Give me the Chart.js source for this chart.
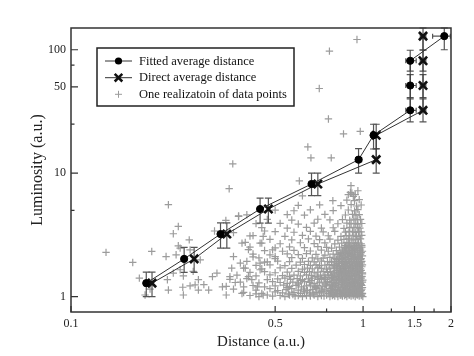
<!DOCTYPE html>
<html><head><meta charset="utf-8">
<script src="https://cdn.jsdelivr.net/npm/chart.js@4/dist/chart.umd.min.js"></script>
<style>html,body{margin:0;padding:0;background:#fff;}#wrap{width:474px;height:356px;}</style>
</head><body><div id="wrap"><canvas id="c" width="474" height="356"></canvas></div>
<script>
// ---------- DATA ----------
const fittedX   = [0.181, 0.244, 0.325, 0.444, 0.666, 0.965, 1.086, 1.45, 1.45, 1.45, 1.897];
const fittedY   = [1.285, 2.02, 3.21, 5.12, 8.17, 12.87, 20.3, 32.3, 51.3, 81.4, 128.9];
const fittedYLo = [1.0, 1.57, 2.47, 3.94, 6.57, 10.0, 15.7, 26.0, 41.0, 67.0, 100.0];
const fittedYHi = [1.58, 2.5, 3.96, 6.28, 10.0, 15.8, 24.9, 40.0, 62.9, 99.0, 150.0];
const fittedXLo = [0.181, 0.244, 0.325, 0.444, 0.666, 0.945, 1.07, 1.40, 1.40, 1.40, 1.73];
const fittedXHi = [0.181, 0.244, 0.325, 0.444, 0.666, 0.99, 1.10, 1.52, 1.52, 1.52, 1.99];

const directX   = [0.1894, 0.264, 0.3416, 0.474, 0.700, 1.109, 1.109, 1.604, 1.604, 1.604, 1.604];
const directY   = [1.285, 2.02, 3.21, 5.12, 8.17, 12.87, 20.3, 32.3, 51.3, 81.4, 128.9];
const directYLo = [1.0, 1.57, 2.47, 3.94, 6.57, 10.0, 15.7, 26.0, 41.0, 67.0, 100.0];
const directYHi = [1.58, 2.5, 3.96, 6.28, 10.0, 15.8, 24.9, 40.0, 62.9, 99.0, 150.0];
const directXLo = [0.1894, 0.264, 0.3416, 0.474, 0.700, 1.109, 1.109, 1.57, 1.57, 1.57, 1.57];
const directXHi = [0.1894, 0.264, 0.3416, 0.474, 0.700, 1.109, 1.109, 1.64, 1.64, 1.64, 1.64];

const scatterPoints = [
[0.41,1.02],[0.44,1.0],[0.47,1.03],[0.49,1.01],[0.52,1.02],[0.54,1.0],[0.56,1.03],[0.585,1.01],[0.6,1.02],[0.62,1.0],[0.64,1.02],[0.66,1.01],[0.68,1.03],[0.7,1.0],[0.72,1.02],[0.735,1.01],[0.75,1.03],[0.77,1.0],[0.785,1.02],[0.8,1.01],[0.82,1.0],[0.835,1.03],[0.85,1.01],[0.865,1.02],[0.88,1.0],[0.895,1.03],[0.91,1.01],[0.925,1.02],[0.94,1.0],[0.955,1.03],[0.97,1.01],[0.985,1.02],[0.998,1.0],
[0.39,1.08],[0.45,1.06],[0.5,1.09],[0.53,1.07],[0.555,1.05],[0.58,1.08],[0.61,1.06],[0.63,1.09],[0.655,1.07],[0.675,1.05],[0.69,1.08],[0.71,1.07],[0.73,1.09],[0.76,1.06],[0.78,1.08],[0.79,1.05],[0.81,1.07],[0.83,1.09],[0.845,1.06],[0.86,1.08],[0.875,1.05],[0.89,1.07],[0.905,1.09],[0.92,1.06],[0.935,1.08],[0.95,1.05],[0.965,1.07],[0.98,1.09],[0.995,1.06],
[0.36,1.15],[0.43,1.13],[0.48,1.16],[0.51,1.12],[0.545,1.14],[0.57,1.16],[0.6,1.13],[0.625,1.15],[0.645,1.12],[0.67,1.14],[0.695,1.16],[0.72,1.13],[0.74,1.15],[0.765,1.12],[0.775,1.16],[0.8,1.14],[0.815,1.12],[0.84,1.15],[0.855,1.13],[0.87,1.16],[0.885,1.14],[0.9,1.12],[0.915,1.15],[0.93,1.13],[0.945,1.16],[0.96,1.14],[0.975,1.12],[0.99,1.15],
[0.34,1.21],[0.42,1.23],[0.46,1.2],[0.5,1.22],[0.535,1.24],[0.56,1.21],[0.59,1.23],[0.615,1.2],[0.64,1.22],[0.66,1.24],[0.685,1.21],[0.7,1.23],[0.725,1.2],[0.75,1.22],[0.77,1.24],[0.79,1.21],[0.805,1.23],[0.825,1.2],[0.85,1.22],[0.865,1.24],[0.88,1.21],[0.9,1.23],[0.92,1.2],[0.935,1.22],[0.955,1.24],[0.97,1.21],[0.99,1.23],
[0.38,1.31],[0.44,1.29],[0.49,1.32],[0.52,1.3],[0.55,1.28],[0.575,1.31],[0.6,1.29],[0.63,1.32],[0.655,1.3],[0.68,1.28],[0.71,1.31],[0.735,1.29],[0.755,1.32],[0.78,1.3],[0.8,1.28],[0.82,1.31],[0.84,1.29],[0.86,1.32],[0.875,1.3],[0.89,1.28],[0.91,1.31],[0.925,1.29],[0.94,1.32],[0.96,1.3],[0.98,1.28],[0.995,1.31],
[0.35,1.38],[0.4,1.4],[0.47,1.37],[0.51,1.39],[0.54,1.41],[0.565,1.38],[0.595,1.4],[0.62,1.37],[0.65,1.39],[0.67,1.41],[0.7,1.38],[0.72,1.4],[0.745,1.37],[0.77,1.39],[0.79,1.41],[0.81,1.38],[0.83,1.4],[0.85,1.37],[0.87,1.39],[0.885,1.41],[0.9,1.38],[0.92,1.4],[0.945,1.37],[0.965,1.39],[0.985,1.41],
[0.37,1.49],[0.43,1.47],[0.48,1.5],[0.53,1.48],[0.56,1.46],[0.58,1.49],[0.61,1.47],[0.64,1.5],[0.665,1.48],[0.69,1.46],[0.715,1.49],[0.74,1.47],[0.76,1.5],[0.78,1.48],[0.8,1.46],[0.825,1.49],[0.845,1.47],[0.865,1.5],[0.88,1.48],[0.9,1.46],[0.915,1.49],[0.935,1.47],[0.95,1.5],[0.97,1.48],[0.99,1.46],
[0.41,1.57],[0.46,1.59],[0.5,1.56],[0.55,1.58],[0.6,1.6],[0.63,1.57],[0.655,1.59],[0.68,1.56],[0.7,1.58],[0.73,1.6],[0.755,1.57],[0.775,1.59],[0.8,1.56],[0.82,1.58],[0.84,1.6],[0.86,1.57],[0.875,1.59],[0.895,1.56],[0.91,1.58],[0.93,1.6],[0.955,1.57],[0.975,1.59],[0.995,1.56],
[0.39,1.7],[0.45,1.68],[0.52,1.71],[0.57,1.69],[0.62,1.67],[0.645,1.7],[0.67,1.68],[0.7,1.71],[0.72,1.69],[0.75,1.67],[0.77,1.7],[0.795,1.68],[0.815,1.71],[0.835,1.69],[0.855,1.67],[0.87,1.7],[0.89,1.68],[0.905,1.71],[0.925,1.69],[0.94,1.67],[0.96,1.7],[0.98,1.68],
[0.43,1.79],[0.48,1.81],[0.54,1.78],[0.59,1.8],[0.63,1.82],[0.66,1.79],[0.69,1.81],[0.71,1.78],[0.74,1.8],[0.765,1.82],[0.79,1.79],[0.81,1.81],[0.83,1.78],[0.85,1.8],[0.865,1.82],[0.885,1.79],[0.9,1.81],[0.92,1.78],[0.94,1.8],[0.955,1.82],[0.975,1.79],[0.995,1.81],
[0.4,1.93],[0.47,1.91],[0.51,1.94],[0.56,1.92],[0.61,1.9],[0.65,1.93],[0.68,1.91],[0.72,1.94],[0.755,1.92],[0.78,1.9],[0.8,1.93],[0.825,1.91],[0.845,1.94],[0.86,1.92],[0.88,1.9],[0.9,1.93],[0.915,1.91],[0.93,1.94],[0.95,1.92],[0.97,1.9],[0.99,1.93],
[0.44,2.06],[0.5,2.03],[0.57,2.07],[0.62,2.04],[0.67,2.06],[0.7,2.02],[0.73,2.05],[0.77,2.08],[0.8,2.04],[0.83,2.06],[0.85,2.03],[0.87,2.07],[0.89,2.05],[0.91,2.02],[0.93,2.06],[0.945,2.04],[0.965,2.07],[0.985,2.03],
[0.42,2.21],[0.48,2.18],[0.55,2.22],[0.6,2.19],[0.64,2.23],[0.69,2.2],[0.74,2.17],[0.79,2.21],[0.82,2.19],[0.84,2.23],[0.86,2.18],[0.885,2.21],[0.9,2.24],[0.92,2.19],[0.94,2.22],[0.96,2.18],[0.98,2.21],
[0.46,2.36],[0.53,2.33],[0.58,2.37],[0.66,2.34],[0.72,2.38],[0.76,2.33],[0.81,2.36],[0.85,2.34],[0.875,2.38],[0.895,2.33],[0.915,2.36],[0.935,2.39],[0.955,2.34],[0.975,2.37],[0.995,2.33],
[0.41,2.52],[0.5,2.48],[0.56,2.53],[0.63,2.49],[0.7,2.54],[0.75,2.5],[0.78,2.47],[0.83,2.52],[0.865,2.49],[0.89,2.54],[0.91,2.5],[0.93,2.47],[0.95,2.53],[0.97,2.49],[0.99,2.52],
[0.45,2.71],[0.52,2.68],[0.61,2.73],[0.68,2.69],[0.74,2.72],[0.8,2.67],[0.845,2.71],[0.88,2.74],[0.9,2.68],[0.925,2.72],[0.945,2.69],[0.965,2.73],[0.985,2.68],
[0.48,2.91],[0.57,2.88],[0.65,2.93],[0.71,2.89],[0.77,2.92],[0.82,2.87],[0.86,2.91],[0.89,2.94],[0.915,2.88],[0.94,2.92],[0.96,2.89],[0.98,2.93],
[0.42,3.12],[0.54,3.08],[0.62,3.13],[0.69,3.09],[0.76,3.11],[0.84,3.07],[0.875,3.12],[0.9,3.1],[0.925,3.14],[0.95,3.08],[0.97,3.11],[0.99,3.13],
[0.5,3.36],[0.58,3.32],[0.66,3.38],[0.73,3.34],[0.8,3.37],[0.87,3.33],[0.895,3.38],[0.92,3.35],[0.94,3.31],[0.965,3.36],[0.985,3.34],
[0.45,3.62],[0.55,3.58],[0.64,3.63],[0.72,3.59],[0.79,3.61],[0.86,3.57],[0.9,3.63],[0.93,3.6],[0.955,3.64],[0.975,3.58],
[0.52,3.92],[0.6,3.87],[0.68,3.93],[0.82,3.89],[0.88,3.94],[0.91,3.88],[0.94,3.92],[0.96,3.86],[0.99,3.91],
[0.47,4.22],[0.57,4.17],[0.7,4.23],[0.77,4.18],[0.85,4.21],[0.9,4.16],[0.93,4.24],[0.955,4.19],[0.98,4.22],
[0.375,4.5],[0.4,4.6],[0.55,4.62],[0.63,4.57],[0.74,4.63],[0.87,4.58],[0.92,4.64],[0.945,4.56],[0.97,4.61],
[0.5,5.02],[0.58,4.96],[0.66,5.05],[0.79,4.98],[0.89,5.03],[0.935,4.95],[0.96,5.06],
[0.6,5.48],[0.71,5.53],[0.84,5.46],[0.91,5.55],[0.95,5.42],[0.985,5.52],
[0.788,5.98],[0.88,6.05],[0.935,6.0],[0.97,6.1],[0.62,6.55],[0.926,6.48],[0.94,6.7],
[0.905,6.98],[0.96,7.2],[0.89,6.7],[0.915,6.9],[0.909,7.92],
[0.79,1.04],[0.815,1.05],[0.84,1.03],[0.87,1.045],[0.9,1.035],[0.93,1.05],[0.96,1.04],[0.99,1.035],
[0.775,1.1],[0.805,1.115],[0.835,1.105],[0.865,1.12],[0.895,1.1],[0.925,1.115],[0.955,1.105],[0.985,1.12],
[0.785,1.19],[0.82,1.175],[0.85,1.185],[0.88,1.17],[0.91,1.19],[0.94,1.18],[0.97,1.17],[0.995,1.185],
[0.78,1.26],[0.81,1.27],[0.845,1.255],[0.875,1.265],[0.905,1.25],[0.93,1.27],[0.965,1.26],[0.985,1.25],
[0.79,1.34],[0.825,1.355],[0.855,1.345],[0.88,1.36],[0.915,1.34],[0.945,1.355],[0.975,1.345],[0.998,1.36],
[0.785,1.43],[0.815,1.445],[0.84,1.435],[0.87,1.45],[0.895,1.43],[0.93,1.445],[0.96,1.435],[0.99,1.45],
[0.79,1.53],[0.83,1.52],[0.855,1.54],[0.885,1.525],[0.91,1.535],[0.94,1.52],[0.965,1.54],[0.995,1.525],
[0.81,1.63],[0.84,1.645],[0.865,1.625],[0.895,1.64],[0.92,1.625],[0.95,1.64],[0.985,1.63],
[0.8,1.74],[0.83,1.75],[0.86,1.735],[0.88,1.755],[0.915,1.74],[0.945,1.75],[0.97,1.735],[0.99,1.745],
[0.82,1.86],[0.85,1.87],[0.875,1.855],[0.91,1.87],[0.935,1.855],[0.965,1.865],[0.985,1.875],
[0.81,1.99],[0.84,2.0],[0.87,1.985],[0.895,2.0],[0.925,1.99],[0.955,2.005],[0.98,1.99],
[0.83,2.13],[0.86,2.14],[0.89,2.12],[0.91,2.14],[0.935,2.13],[0.97,2.12],[0.995,2.14],
[0.84,2.28],[0.87,2.29],[0.9,2.27],[0.93,2.29],[0.96,2.28],[0.985,2.27],
[0.86,2.43],[0.88,2.44],[0.92,2.42],[0.945,2.44],[0.98,2.43],
[0.87,2.6],[0.9,2.61],[0.935,2.59],[0.96,2.61],[0.99,2.6],
[0.575,1.04],[0.63,1.11],[0.69,1.18],[0.745,1.26],[0.61,1.35],[0.7,1.44],[0.66,1.03],[0.72,1.1],[0.55,1.18],[0.6,1.26],[0.665,1.35],[0.74,1.43],
[0.953,121],[0.767,97.4],[0.708,48.5],[0.761,27.5],[0.857,20.8],[0.978,21.8],[0.647,16.3],[0.663,13.3],[0.778,13.3],[0.605,8.65],[0.358,11.9],[0.348,7.48],
[0.1318,2.28],[0.1627,1.89],[0.189,2.32],[0.2116,2.11],[0.229,2.18],[0.2364,2.47],[0.2557,2.39],[0.1714,1.41],[0.1793,1.03],[0.2138,1.37],[0.2155,1.13],[0.2414,1.19],[0.2425,1.03],[0.2557,1.22],[0.266,1.245],[0.273,1.37],[0.2425,1.47],[0.2364,1.65],[0.262,1.6],[0.277,1.985],[0.2155,5.55],[0.233,3.7],[0.224,3.23],[0.254,2.88],[0.1865,1.15],[0.224,1.55],[0.233,2.58],
[0.273,1.13],[0.285,1.25],[0.296,1.13],[0.305,1.45],[0.316,1.55],[0.33,1.2],[0.34,1.03],[0.35,1.45],[0.355,1.7],[0.365,1.3],[0.385,1.06],[0.39,1.2],[0.395,1.7],[0.405,1.45],[0.416,1.37],[0.43,1.05],[0.435,1.2],[0.444,1.65],[0.455,1.03],[0.46,1.9],[0.385,2.71],[0.395,2.75],[0.405,2.4],[0.42,2.1],[0.444,1.87],[0.36,2.11],[0.38,1.87],[0.444,2.71],[0.455,3.07],[0.49,2.39],[0.5,2.11],
[0.339,4.14],[0.3745,4.46],[0.43,3.9],[0.31,3.4],[0.36,3.3],[0.46,3.4],[0.41,3.1]
];

const xTickLabels = [0.1, 0.5, 1, 1.5, 2];
const xMinorTicks = [0.75, 1.25, 1.75];
const yTickLabels = [1, 10, 50, 100];
const yMinorTicks = [5, 25, 75];
const seriesNames = ['Fitted average distance', 'Direct average distance', 'One realizatoin of data points'];

// ---------- CHART ----------
const SERIF = "'Liberation Serif', 'Times New Roman', 'DejaVu Serif', serif";
Chart.defaults.font.family = SERIF;
Chart.defaults.color = '#222';

const toPts = (xs, ys) => xs.map((x, i) => ({x: x, y: ys[i]}));

const errorBarPlugin = {
  id: 'errorBars',
  afterDatasetDraw(chart, args) {
    if (args.index !== 2) return;
    const ctx = chart.ctx, xs = chart.scales.x, ys = chart.scales.y;
    ctx.save();
    ctx.strokeStyle = '#555';
    ctx.lineWidth = 1.2;
    const cap = 3.5;
    const draw = (X, Y, YLo, YHi, XLo, XHi) => {
      for (let i = 0; i < X.length; i++) {
        const px = xs.getPixelForValue(X[i]);
        const py = ys.getPixelForValue(Y[i]);
        const pLo = ys.getPixelForValue(YLo[i]);
        const pHi = ys.getPixelForValue(YHi[i]);
        ctx.beginPath();
        ctx.moveTo(px, pLo); ctx.lineTo(px, pHi);
        ctx.moveTo(px - cap, pLo); ctx.lineTo(px + cap, pLo);
        ctx.moveTo(px - cap, pHi); ctx.lineTo(px + cap, pHi);
        const qLo = xs.getPixelForValue(XLo[i]);
        const qHi = xs.getPixelForValue(XHi[i]);
        if (qHi - qLo > 1) {
          ctx.moveTo(qLo, py); ctx.lineTo(qHi, py);
          ctx.moveTo(qLo, py - 2.5); ctx.lineTo(qLo, py + 2.5);
          ctx.moveTo(qHi, py - 2.5); ctx.lineTo(qHi, py + 2.5);
        }
        ctx.stroke();
      }
    };
    draw(fittedX, fittedY, fittedYLo, fittedYHi, fittedXLo, fittedXHi);
    draw(directX, directY, directYLo, directYHi, directXLo, directXHi);
    ctx.restore();
  }
};

const framePlugin = {
  id: 'frame',
  afterDatasetsDraw(chart) {
    const ctx = chart.ctx, a = chart.chartArea, xs = chart.scales.x, ys = chart.scales.y;
    ctx.save();
    ctx.strokeStyle = '#333';
    ctx.lineWidth = 1.5;
    ctx.strokeRect(a.left, a.top, a.right - a.left, a.bottom - a.top);
    ctx.lineWidth = 1.2;
    ctx.beginPath();
    xTickLabels.forEach(v => { const p = xs.getPixelForValue(v); ctx.moveTo(p, a.bottom); ctx.lineTo(p, a.bottom - 6); });
    xMinorTicks.forEach(v => { const p = xs.getPixelForValue(v); ctx.moveTo(p, a.bottom); ctx.lineTo(p, a.bottom - 3.5); });
    yTickLabels.forEach(v => { const p = ys.getPixelForValue(v); ctx.moveTo(a.left, p); ctx.lineTo(a.left + 7, p); });
    yMinorTicks.forEach(v => { const p = ys.getPixelForValue(v); ctx.moveTo(a.left, p); ctx.lineTo(a.left + 3.5, p); });
    ctx.stroke();
    ctx.restore();
  }
};

const legendPlugin = {
  id: 'boxLegend',
  afterDraw(chart) {
    const ctx = chart.ctx;
    const bx = 97, by = 48, bw = 197, bh = 58;
    ctx.save();
    ctx.fillStyle = '#fff';
    ctx.fillRect(bx, by, bw, bh);
    ctx.strokeStyle = '#222';
    ctx.lineWidth = 1.5;
    ctx.strokeRect(bx, by, bw, bh);
    const rows = [61, 77.7, 94.3];
    const mx = 118.5;
    ctx.strokeStyle = '#333'; ctx.lineWidth = 1;
    ctx.beginPath(); ctx.moveTo(105, rows[0]); ctx.lineTo(132, rows[0]); ctx.stroke();
    ctx.fillStyle = '#000';
    ctx.beginPath(); ctx.arc(mx, rows[0], 3.6, 0, Math.PI * 2); ctx.fill();
    ctx.beginPath(); ctx.moveTo(105, rows[1]); ctx.lineTo(132, rows[1]); ctx.stroke();
    ctx.strokeStyle = '#111'; ctx.lineWidth = 2.5;
    const r = 3.8;
    ctx.beginPath();
    ctx.moveTo(mx - r, rows[1] - r); ctx.lineTo(mx + r, rows[1] + r);
    ctx.moveTo(mx - r, rows[1] + r); ctx.lineTo(mx + r, rows[1] - r);
    ctx.stroke();
    ctx.strokeStyle = '#9c9c9c'; ctx.lineWidth = 1;
    ctx.beginPath();
    ctx.moveTo(mx - 3.5, rows[2]); ctx.lineTo(mx + 3.5, rows[2]);
    ctx.moveTo(mx, rows[2] - 3.5); ctx.lineTo(mx, rows[2] + 3.5);
    ctx.stroke();
    ctx.fillStyle = '#111';
    ctx.font = '12.5px ' + SERIF;
    ctx.textBaseline = 'middle';
    ctx.textAlign = 'left';
    seriesNames.forEach((t, i) => ctx.fillText(t, 139, rows[i] + 0.5));
    ctx.restore();
  }
};

new Chart(document.getElementById('c'), {
  type: 'scatter',
  data: {
    datasets: [
      {
        label: seriesNames[0], type: 'line', data: toPts(fittedX, fittedY),
        borderColor: '#333', borderWidth: 1, showLine: true, fill: false, tension: 0,
        pointStyle: 'circle', pointRadius: 3.6, pointBackgroundColor: '#000', pointBorderColor: '#000', pointBorderWidth: 1
      },
      {
        label: seriesNames[1], type: 'line', data: toPts(directX, directY),
        borderColor: '#333', borderWidth: 1, showLine: true, fill: false, tension: 0,
        pointStyle: 'crossRot', pointRadius: 5.8, pointBorderColor: '#111', pointBorderWidth: 2.6, pointBackgroundColor: '#111'
      },
      {
        label: seriesNames[2], data: scatterPoints.map(p => ({x: p[0], y: p[1]})),
        pointStyle: 'cross', pointRadius: 3.7, borderColor: '#9c9c9c', pointBorderColor: '#9c9c9c', pointBorderWidth: 1.2, showLine: false
      }
    ]
  },
  options: {
    responsive: false, animation: false, devicePixelRatio: 1,
    layout: { padding: { left: 0, right: 23, top: 28, bottom: 0 } },
    plugins: { legend: { display: false }, tooltip: { enabled: false } },
    scales: {
      x: {
        type: 'logarithmic', min: 0.1, max: 2, position: 'bottom', offset: false,
        grid: { display: false, drawTicks: false }, border: { display: false },
        afterBuildTicks: s => { s.ticks = xTickLabels.map(v => ({ value: v })); },
        afterFit: s => { s.height = 44; },
        ticks: { autoSkip: false, maxRotation: 0, padding: 5, font: { size: 12 }, color: '#222',
          callback: v => String(v) },
        title: { display: true, text: 'Distance (a.u.)', font: { size: 15 }, color: '#222', padding: { top: 0, bottom: 5 } }
      },
      y: {
        type: 'logarithmic', min: 0.75, max: 150, position: 'left',
        grid: { display: false, drawTicks: false }, border: { display: false },
        afterBuildTicks: s => { s.ticks = yTickLabels.map(v => ({ value: v })); },
        afterFit: s => { s.width = 71; },
        ticks: { autoSkip: false, padding: 5, font: { size: 12 }, color: '#222',
          callback: v => String(v) },
        title: { display: true, text: 'Luminosity (a.u.)', font: { size: 16 }, color: '#222', padding: { top: 28, bottom: 0 } }
      }
    }
  },
  plugins: [errorBarPlugin, framePlugin, legendPlugin]
});
</script>
</body></html>
